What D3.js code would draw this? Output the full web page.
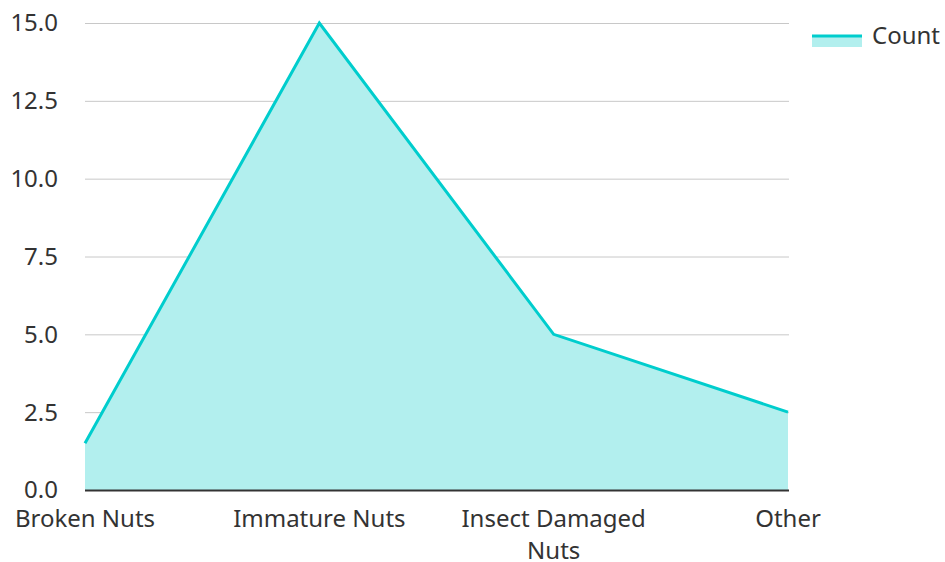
<!DOCTYPE html>
<html>
<head>
<meta charset="utf-8">
<script src="https://cdn.jsdelivr.net/npm/d3@7"></script>
<style>
  body { margin: 0; background: #fff; }
  text { font-family: "Noto Sans", "Open Sans", sans-serif; fill: #333; }
</style>
</head>
<body>
<script>
// chart data
let categories = ["Broken Nuts", "Immature Nuts", "Insect Damaged Nuts", "Other"];
let counts = [1.5, 15, 5, 2.5];
let yTicks = [0, 2.5, 5, 7.5, 10, 12.5, 15];
let seriesName = "Count";

let W = 945, H = 562;
let margin = {top: 23, right: 157, bottom: 72, left: 85};
let width = W - margin.left - margin.right,
    height = H - margin.top - margin.bottom;

let lineColor = "#00cdcd", fillColor = "#b2efee";

let svg = d3.select("body").append("svg")
  .attr("width", W)
  .attr("height", H);

let g = svg.append("g")
  .attr("transform", "translate(" + margin.left + "," + margin.top + ")");

let x = d3.scalePoint().domain(categories).range([0, width]).padding(0);
let y = d3.scaleLinear().domain([0, 15]).range([height, 0]);

let data = categories.map((c, i) => ({cat: c, v: counts[i]}));

// gridlines
g.append("g")
  .selectAll("line")
  .data(yTicks.filter(t => t > 0))
  .join("line")
  .attr("x1", 0).attr("x2", width + 1)
  .attr("y1", d => y(d) + 0.5).attr("y2", d => y(d) + 0.5)
  .attr("stroke", "#c8c8c8")
  .attr("stroke-width", 1);

// area
let area = d3.area()
  .x(d => x(d.cat))
  .y0(y(0))
  .y1(d => y(d.v));
g.append("path")
  .datum(data)
  .attr("fill", fillColor)
  .attr("d", area);

let line = d3.line()
  .x(d => x(d.cat))
  .y(d => y(d.v));
g.append("path")
  .datum(data)
  .attr("fill", "none")
  .attr("stroke", lineColor)
  .attr("stroke-width", 3)
  .attr("d", line);

// y labels
g.append("g")
  .selectAll("text")
  .data(yTicks)
  .join("text")
  .attr("x", -27)
  .attr("y", d => y(d))
  .attr("dy", "0.35em")
  .attr("text-anchor", "end")
  .style("font-size", "24px")
  .text(d => d3.format(".1f")(d));

// x axis baseline
g.append("line")
  .attr("x1", 0).attr("x2", width + 1)
  .attr("y1", height + 0.5).attr("y2", height + 0.5)
  .attr("stroke", "#333")
  .attr("stroke-width", 2);

// x labels (wrap)
let xl = g.append("g")
  .selectAll("text")
  .data(categories)
  .join("text")
  .attr("text-anchor", "middle")
  .attr("transform", d => "translate(" + x(d) + "," + (height + 37) + ")")
  .style("font-size", "24px");
xl.each(function(d) {
  let lines = d === "Insect Damaged Nuts" ? ["Insect Damaged", "Nuts"] : [d];
  let t = d3.select(this);
  lines.forEach((l, i) => {
    t.append("tspan").attr("x", 0).attr("y", i * 32).text(l);
  });
});

// legend
let lg = svg.append("g").attr("transform", "translate(812,35)");
lg.append("rect")
  .attr("x", 0).attr("y", 0).attr("width", 50).attr("height", 12)
  .attr("fill", fillColor);
lg.append("line")
  .attr("x1", 0).attr("x2", 50).attr("y1", 1).attr("y2", 1)
  .attr("stroke", lineColor).attr("stroke-width", 3);
lg.append("text")
  .attr("x", 60).attr("y", 9)
  .style("font-size", "24px")
  .text(seriesName);
</script>
</body>
</html>
